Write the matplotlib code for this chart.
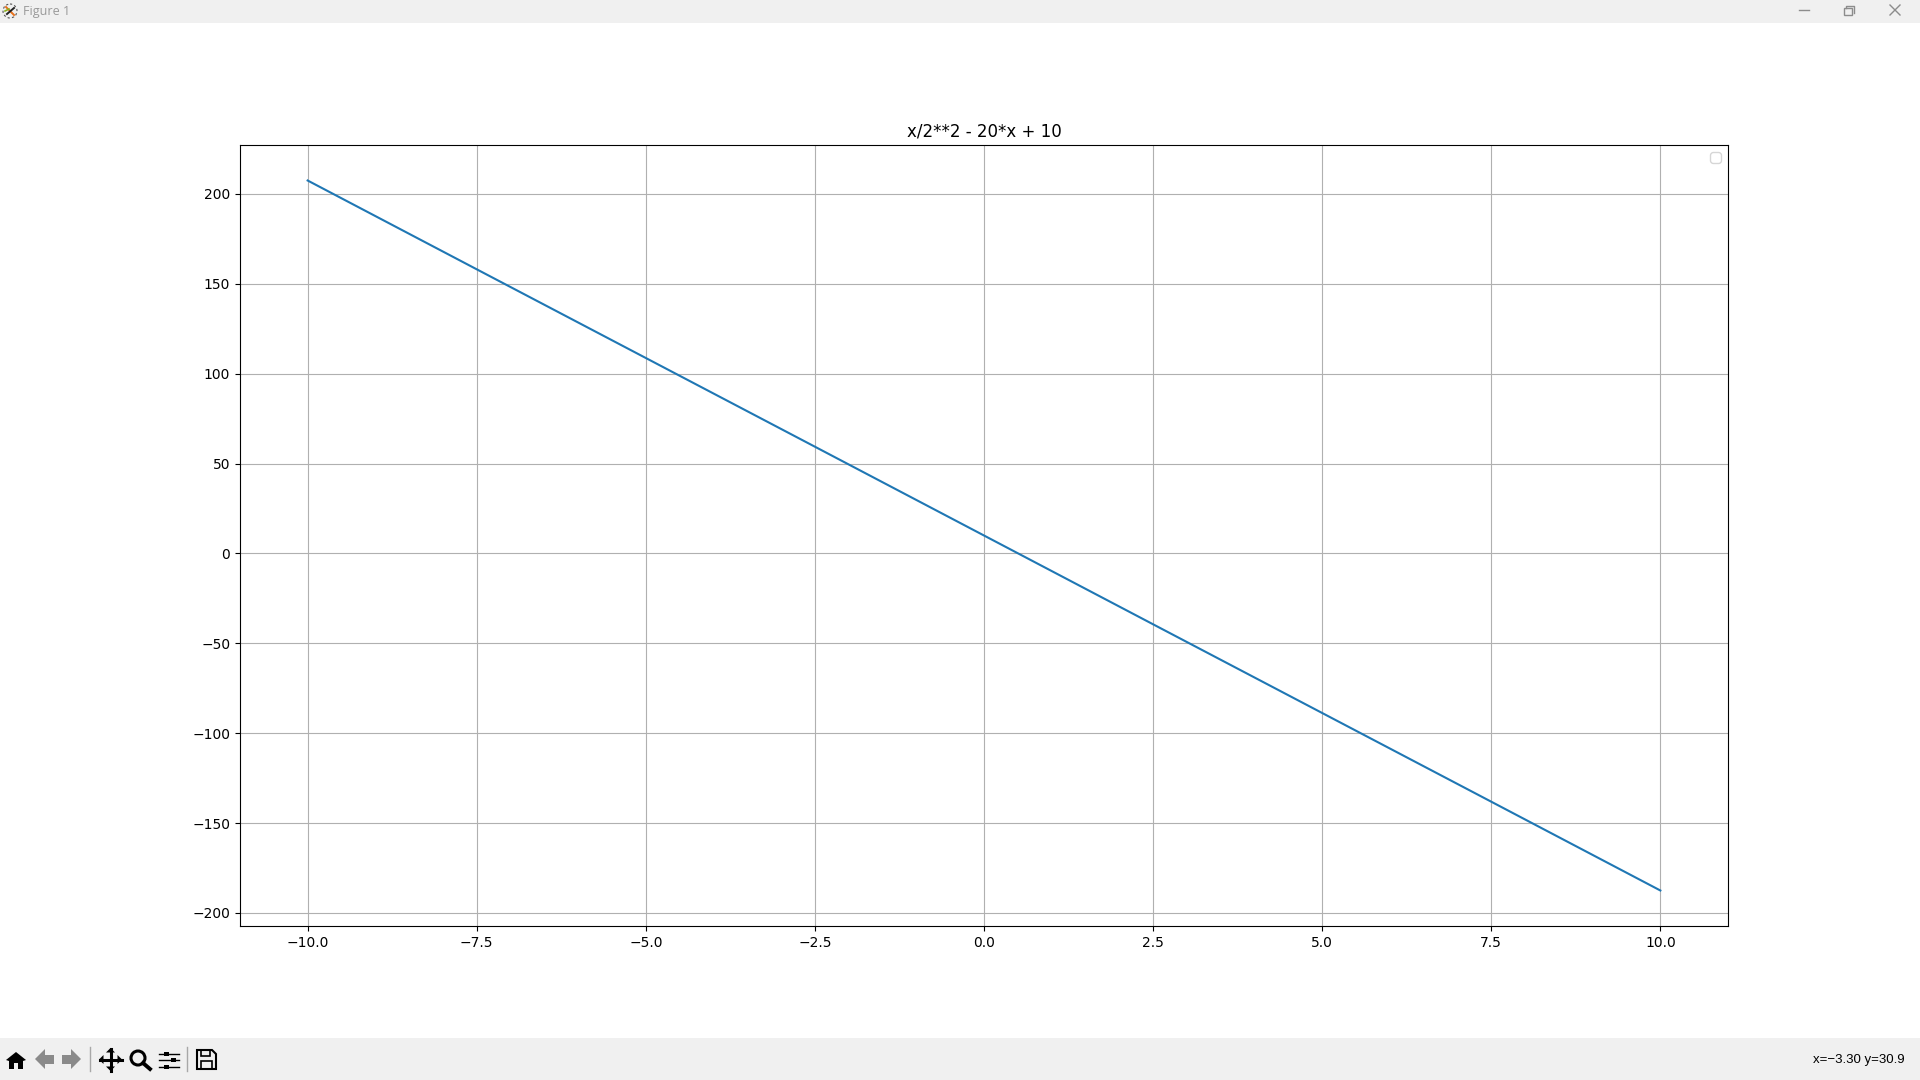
#!/usr/bin/env python3
import matplotlib
matplotlib.use("Agg")
import matplotlib.pyplot as plt
from matplotlib.patches import Rectangle, Polygon, Circle

# --- datos ---
valores_x = [-10.0, -7.5, -5.0, -2.5, 0.0, 2.5, 5.0, 7.5, 10.0]
valores_y = [207.5, 158.1, 108.75, 59.4, 10.0, -39.4, -88.75, -138.1, -187.5]
titulo = "x/2**2 - 20*x + 10"
texto_ventana = "Figure 1"
texto_estado = "x=\u22123.30 y=30.9"

fig = plt.figure(figsize=(19.2, 10.8), dpi=100)

# --- marco de la ventana, en pixeles ---
marco = fig.add_axes([0, 0, 1, 1], zorder=0)
marco.set_xlim(0, 1920)
marco.set_ylim(1080, 0)
marco.axis("off")

GRIS = "#f0f0f0"
marco.add_patch(Rectangle((0, 0), 1920, 23, color=GRIS, lw=0))
marco.add_patch(Rectangle((0, 1038), 1920, 42, color=GRIS, lw=0))

marco.text(23, 12, texto_ventana, family="Open Sans", fontsize=9, color="#999999", va="center")
marco.text(1905, 1060, texto_estado, family="Liberation Sans", fontsize=9.5, color="black", va="center", ha="right")

# icono de la ventana
marco.add_patch(Circle((10, 11), 7, fill=False, ec="#555555", lw=0.8, ls=(0, (2, 2))))
marco.plot([6, 14], [7, 15], color="#e8701a", lw=1.4)
marco.plot([7, 14], [14, 8], color="#222222", lw=1.4)
marco.plot([5, 9], [11, 9], color="#8ab020", lw=1.2)

# botones de la ventana
marco.plot([1799, 1809], [10, 10], color="#8c8c8c", lw=1)
marco.add_patch(Rectangle((1844, 8), 8, 7, fill=False, ec="#8c8c8c", lw=1))
marco.plot([1846, 1846, 1854, 1854], [8, 5.5, 5.5, 13], color="#8c8c8c", lw=1)
marco.plot([1890, 1900], [5, 15], color="#8c8c8c", lw=1)
marco.plot([1890, 1900], [15, 5], color="#8c8c8c", lw=1)

# barra de herramientas
marco.add_patch(Polygon([(6, 1060), (16, 1052), (26, 1060), (23, 1061), (23, 1069),
                         (18, 1069), (18, 1063), (14, 1063), (14, 1069), (9, 1069), (9, 1061)],
                        color="black", lw=0))
marco.add_patch(Polygon([(35, 1059), (45, 1049), (45, 1055), (54, 1055), (54, 1064), (45, 1064), (45, 1069)],
                        color="#8a8a8a", lw=0))
marco.add_patch(Polygon([(81, 1059), (71, 1049), (71, 1055), (62, 1055), (62, 1064), (71, 1064), (71, 1069)],
                        color="#8a8a8a", lw=0))
marco.plot([90, 90], [1047, 1071], color="#a8a8a8", lw=1)
marco.plot([187, 187], [1047, 1071], color="#a8a8a8", lw=1)

# mover
marco.plot([99.5, 121.5], [1059.5, 1059.5], color="black", lw=2.2)
marco.plot([110.5, 110.5], [1048.5, 1070.5], color="black", lw=2.2)
marco.add_patch(Polygon([(99, 1059.5), (103.5, 1055), (103.5, 1064)], color="black", lw=0))
marco.add_patch(Polygon([(122, 1059.5), (117.5, 1055), (117.5, 1064)], color="black", lw=0))
marco.add_patch(Polygon([(110.5, 1048), (106, 1052.5), (115, 1052.5)], color="black", lw=0))
marco.add_patch(Polygon([(110.5, 1071), (106, 1066.5), (115, 1066.5)], color="black", lw=0))

# lupa
marco.add_patch(Circle((138, 1058), 7, fill=False, ec="black", lw=2.2))
marco.plot([143, 150], [1063, 1069], color="black", lw=2.8)

# ajustes
for yy, xx in [(1053.5, 166), (1060, 173), (1066.5, 166)]:
    marco.plot([159, 179], [yy, yy], color="black", lw=1)
    marco.add_patch(Rectangle((xx - 2.5, yy - 2), 5, 4, color="black", lw=0))

# guardar
marco.add_patch(Polygon([(197, 1050), (212, 1050), (216, 1054), (216, 1069), (197, 1069)],
                        fill=False, ec="black", lw=1.5))
marco.add_patch(Rectangle((201, 1050), 9, 6, fill=False, ec="black", lw=1.2))
marco.add_patch(Rectangle((201, 1061), 11, 8, fill=False, ec="black", lw=1.2))

# --- grafica ---
ax = fig.add_axes([240 / 1920, 1 - 926 / 1080, 1488 / 1920, 781 / 1080], zorder=1)
ax.plot(valores_x, valores_y)
ax.set_title(titulo)
ax.grid(True)
ax.legend(handles=[])

fig.savefig("out.png", dpi=100)
